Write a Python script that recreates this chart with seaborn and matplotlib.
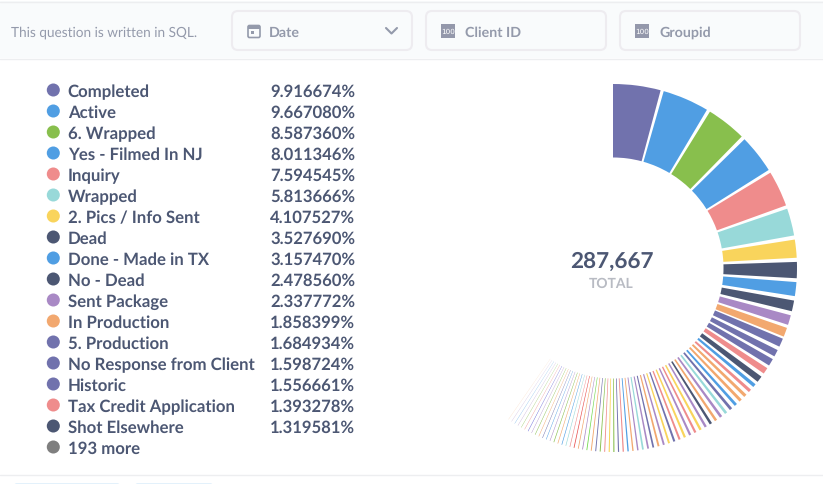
#!/usr/bin/env python
# coding: utf-8

# Relevant Libraries
import pandas as pd
import matplotlib
matplotlib.use("Agg")
import matplotlib.pyplot as plt
from matplotlib.patches import FancyBboxPatch, Rectangle
import seaborn as sns

sns.set_theme(style="white")
plt.rcParams['font.family'] = ['Lato', 'DejaVu Sans']
plt.rcParams['text.hinting'] = 'no_hinting'

indigo = "#7172AD"
blue = "#509EE3"
green = "#88BF4D"
pink = "#EF8C8C"
teal = "#98D9D9"
yellow = "#F9D45C"
navy = "#4C5773"
purple = "#A989C5"
orange = "#F2A86F"
gray = "#7F7F7F"
lime = "#6FD84A"
red = "#E8504F"
deep = "#4A4AD0"

W, H = 823, 485

# legend
legend_labels = ["Completed", "Active", "6. Wrapped", "Yes - Filmed In NJ", "Inquiry", "Wrapped",
                 "2. Pics / Info Sent", "Dead", "Done - Made in TX", "No - Dead", "Sent Package",
                 "In Production", "5. Production", "No Response from Client", "Historic",
                 "Tax Credit Application", "Shot Elsewhere", "193 more"]
legend_pcts = ["9.916674%", "9.667080%", "8.587360%", "8.011346%", "7.594545%", "5.813666%",
               "4.107527%", "3.527690%", "3.157470%", "2.478560%", "2.337772%", "1.858399%",
               "1.684934%", "1.598724%", "1.556661%", "1.393278%", "1.319581%", ""]
legend_colors = [indigo, blue, green, blue, pink, teal, yellow, navy, blue, navy, purple, orange,
                 indigo, indigo, indigo, pink, navy, gray]

# big slices, degrees clockwise from the top
big_starts = [0.0, 16.0, 31.8, 45.6, 58.8, 71.2, 81.1, 88.1, 94.4, 100.2, 104.9, 109.0, 112.6,
              116.5, 119.7, 123.0, 126.2]
big_ends = [15.0, 30.7, 44.4, 57.8, 70.1, 79.8, 86.8, 93.2, 98.8, 103.6, 108.0, 111.9, 115.3,
            118.7, 122.0, 125.0, 128.2]

# the thin slices after them
tail_arcs = [1.1, 1.0, 1.0, 0.95, 0.9, 0.9, 0.85, 0.85, 0.8, 0.8, 0.75, 0.75, 0.7, 0.7, 0.7, 0.65,
             0.65, 0.6, 0.6, 0.6, 0.55, 0.55, 0.55, 0.45, 0.42, 0.42, 0.4, 0.36, 0.35, 0.35, 0.3, 0.3,
             0.3, 0.3, 0.26, 0.25, 0.25, 0.25, 0.2, 0.2, 0.2, 0.2, 0.2, 0.16, 0.15, 0.15, 0.15,
             0.15, 0.12, 0.12, 0.12, 0.1, 0.08, 0.08, 0.06, 0.04]
tail_colors = [blue, pink, orange, orange, blue, indigo, teal, purple, orange, navy, purple, yellow,
               pink, purple, yellow, pink, indigo, yellow, purple, orange, indigo, purple, teal,
               purple, orange, blue, pink, indigo, green, yellow, pink, green, indigo, orange, lime,
               purple, orange, red, pink, teal, blue, orange, green, purple, blue, indigo, orange,
               green, purple, deep, pink, green, purple, blue, purple, orange]
tail_gap = 1.1
tail_start = 129.2

total_text = "287,667"
total_label = "TOTAL"
filter_names = ["Date", "Client ID", "Groupid"]

text_col = "#4C5773"
muted = "#949AAB"
line_col = "#EDEEF0"

fig = plt.figure(figsize=(W / 100, H / 100), dpi=100, facecolor="white")

# page chrome in pixel coordinates
ax = fig.add_axes([0, 0, 1, 1])
ax.set_xlim(0, W)
ax.set_ylim(H, 0)
ax.axis("off")

ax.add_patch(Rectangle((0, 2), W, 57, fc="#F9FBFC", ec="none"))
ax.plot([0, W], [2.5, 2.5], color=line_col, lw=1)
ax.plot([0, W], [59.5, 59.5], color=line_col, lw=1)
ax.plot([0, W], [475.5, 475.5], color=line_col, lw=1)
ax.add_patch(FancyBboxPatch((14, 484), 106, 6, boxstyle="round,pad=0,rounding_size=3", fc="#E3F1FB", ec="none"))
ax.add_patch(FancyBboxPatch((135, 484), 78, 6, boxstyle="round,pad=0,rounding_size=3", fc="#E3F1FB", ec="none"))

ax.text(11, 32.5, "This question is written in SQL.", color=muted, fontsize=9.85, va="center")

for i, name in enumerate(filter_names):
    x0 = 232 + i * 194
    ax.add_patch(FancyBboxPatch((x0, 12), 180, 39, boxstyle="round,pad=0,rounding_size=6",
                                fc="#F9FBFC", ec="#EEECF0", lw=1.5))
    ax.text(x0 + 37 if i == 0 else x0 + 39, 32.5, name, color=muted, fontsize=10.3, fontweight="bold", va="center")
    if i == 0:
        # calendar icon and chevron
        ax.add_patch(FancyBboxPatch((x0 + 16, 26.5), 12, 12, boxstyle="round,pad=0,rounding_size=1.5",
                                    fc="none", ec=muted, lw=1.2))
        ax.add_patch(Rectangle((x0 + 16, 26.5), 12, 3, fc=muted, ec="none"))
        ax.add_patch(Rectangle((x0 + 19, 32), 3, 3, fc=muted, ec="none"))
        ax.plot([x0 + 154, x0 + 159.5, x0 + 165], [29, 34.5, 29], color=muted, lw=1.5)
    else:
        ax.add_patch(Rectangle((x0 + 15, 25), 14, 14, fc="#9498AB", ec="none"))
        ax.text(x0 + 22, 32, "100", color="white", fontsize=5.2, ha="center", va="center",
                family="DejaVu Sans")

# legend rows
legend_df = pd.DataFrame({"row": range(len(legend_labels)), "label": legend_labels, "color": legend_colors})
legend_df["x"] = 53.3
legend_df["y"] = 91 + legend_df["row"] * 21
sns.scatterplot(data=legend_df, x="x", y="y", hue="label", palette=legend_colors, s=88, linewidth=0,
                legend=False, ax=ax, clip_on=False)
ax.set_xlim(0, W)
ax.set_ylim(H, 0)
ax.axis("off")
for row, label, pct in zip(legend_df["y"], legend_labels, legend_pcts):
    ax.text(67.8, row + 0.8, label, color=text_col, fontsize=12.05, fontweight="bold", va="center")
    if pct:
        ax.text(270, row + 0.8, pct, color=text_col, fontsize=12, fontweight="bold", va="center")

# ring: coloured slices with see-through gaps, as fractions of the full circle
arcs, colors = [], []
last = 0.0
for start, end, col in zip(big_starts, big_ends, legend_colors):
    arcs += [start - last, end - start]
    colors += ["none", col]
    last = end
arcs.append(tail_start - last)
colors.append("none")
for arc, col in zip(tail_arcs, tail_colors):
    arcs += [arc, tail_gap]
    colors += [col, "none"]
arcs = [a / 360 for a in arcs]

cx, cy, radius = 613, 269, 184
pie_ax = fig.add_axes([(cx - radius) / W, 1 - (cy + radius) / H, 2 * radius / W, 2 * radius / H])
pie_ax.pie(arcs, colors=colors, startangle=90, counterclock=False, normalize=False, radius=1,
           wedgeprops={"width": 1 - 110.5 / radius, "linewidth": 0})
pie_ax.set_xlim(-1, 1)
pie_ax.set_ylim(-1, 1)
pie_ax.patch.set_alpha(0)

ax.text(611.5, 261.5, total_text, color=text_col, fontsize=16.2, fontweight="bold", ha="center", va="center", zorder=5)
ax.text(611.5, 283.5, total_label, color="#B8BBC3", fontsize=10, fontweight="bold", ha="center", va="center", zorder=5)

plt.savefig("out.png", dpi=100)
